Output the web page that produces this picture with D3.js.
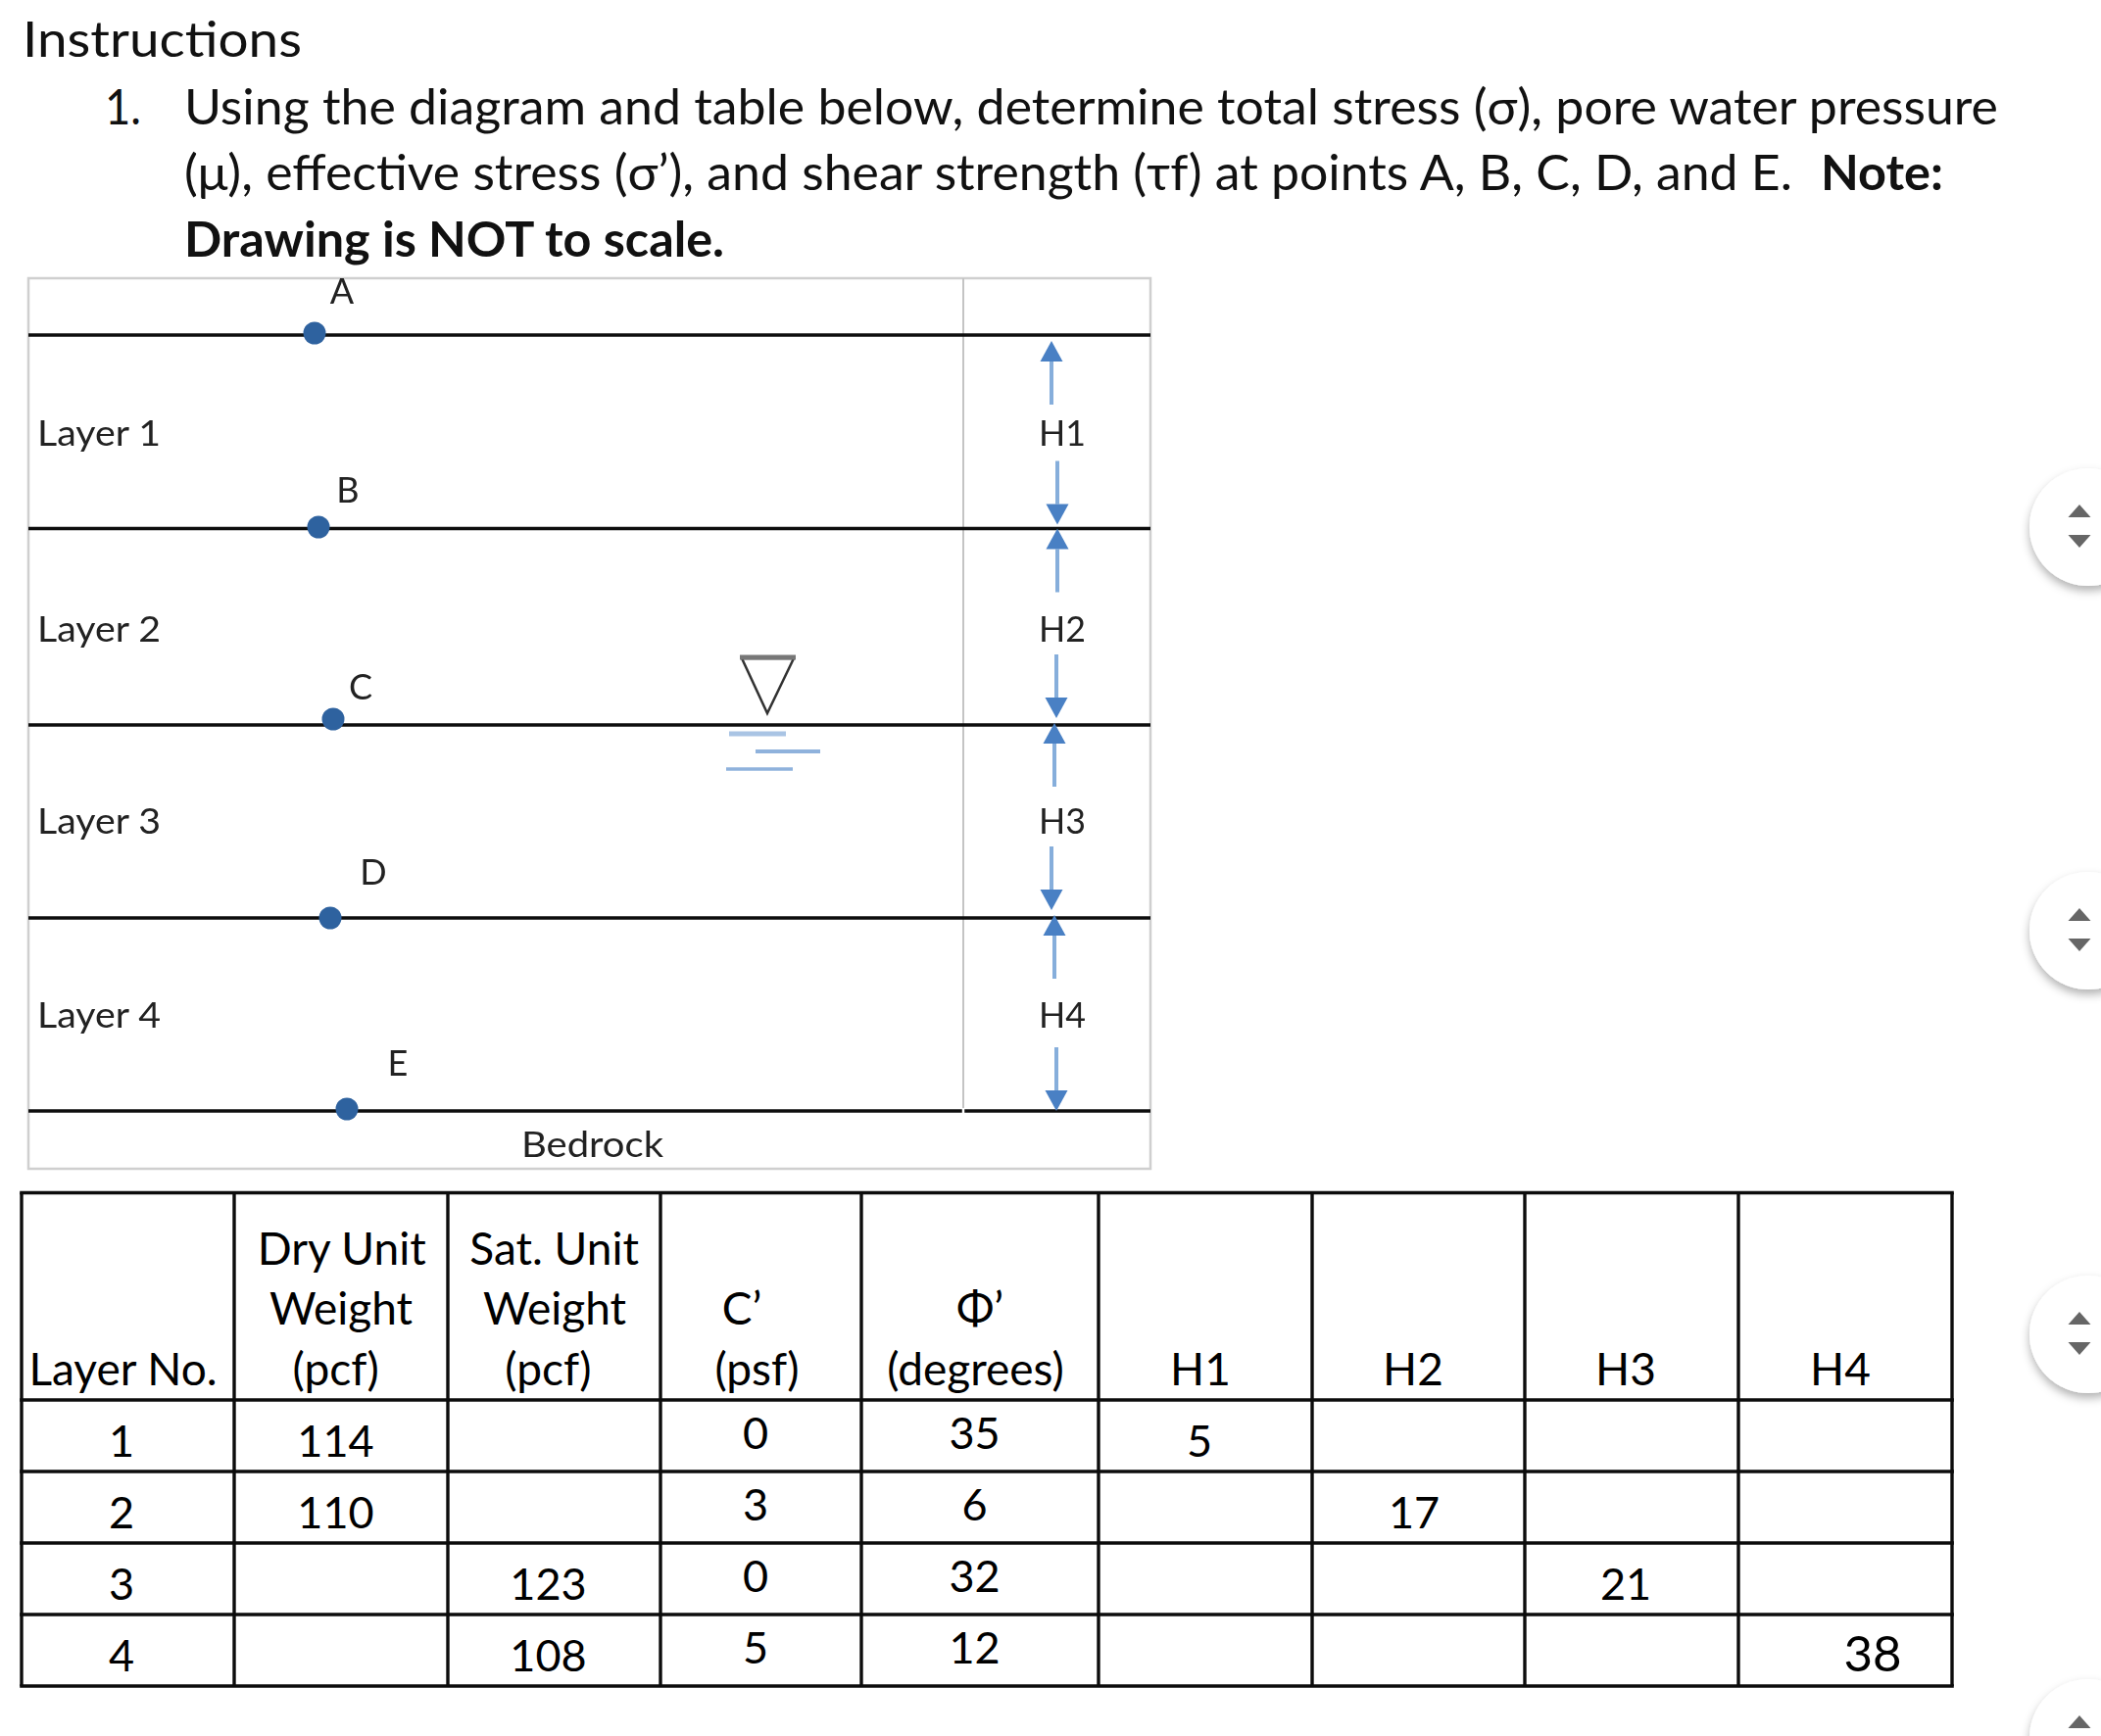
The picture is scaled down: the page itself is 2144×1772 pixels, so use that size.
<!DOCTYPE html>
<html>
<head>
<meta charset="utf-8">
<script src="https://cdn.jsdelivr.net/npm/d3@7"></script>
<style>
  html, body { margin: 0; padding: 0; background: #fff; }
  svg { display: block; }
  text { font-family: Lato, "Open Sans", sans-serif; }
</style>
</head>
<body>
<div id="page"></div>
<script>
// table values
var layerNo = ["1", "2", "3", "4"];
var dryUnit = ["114", "110", "", ""];
var satUnit = ["", "", "123", "108"];
var cPrime = ["0", "3", "0", "5"];
var phiPrime = ["35", "6", "32", "12"];
var h1Values = ["5", "", "", ""];
var h2Values = ["", "17", "", ""];
var h3Values = ["", "", "21", ""];
var h4Values = ["", "", "", "38"];

var columnKeys = ["layer", "dry", "sat", "c", "phi", "h1", "h2", "h3", "h4"];
var headerLines = [
  ["Layer No."],
  ["Dry Unit", "Weight", "(pcf)"],
  ["Sat. Unit", "Weight", "(pcf)"],
  ["C\u2019", "(psf)"],
  ["\u03A6\u2019", "(degrees)"],
  ["H1"], ["H2"], ["H3"], ["H4"]
];

// diagram values
var boundaryNames = ["top", "layer1", "layer2", "layer3", "bedrock"];
var layerNames = ["Layer 1", "Layer 2", "Layer 3", "Layer 4"];
var heightNames = ["H1", "H2", "H3", "H4"];
var pointNames = ["A", "B", "C", "D", "E"];
var pointAlong = [292, 296, 311, 308, 325];
var pointLift = [2, 1.5, 6, 0, 2];
var pointLabelAlong = [320, 326, 339, 352, 377];
var pointLabelLift = [32.5, 27, 26, 34, 36.5];

var upArrowAlong = [1044, 1050, 1047, 1047];
var upArrowGap = [6, 0, -2, -3];
var downArrowAlong = [1050, 1049, 1044, 1049];
var downArrowGap = [-4, -7, -8, 0];

var paragraph = [
  {text: "Instructions", x: 23, y: 57.5, len: 285, weight: 400},
  {text: "1.", x: 107, y: 126.5, len: 37, weight: 400},
  {text: "Using the diagram and table below, determine total stress (\u03C3), pore water pressure", x: 188, y: 126.5, len: 1851, weight: 400},
  {text: "(\u03BC), effective stress (\u03C3\u2019), and shear strength (\u03C4f) at points A, B, C, D, and E.", x: 188, y: 194, len: 1641, weight: 400},
  {text: "Note:", x: 1858, y: 194, len: 125, weight: 700},
  {text: "Drawing is NOT to scale.", x: 188, y: 262, len: 551, weight: 700}
];

var W = 2144, H = 1772;
var svg = d3.select("#page").append("svg").attr("width", W).attr("height", H);

var defs = svg.append("defs");
var soft = defs.append("filter").attr("id", "soft");
soft.append("feGaussianBlur").attr("stdDeviation", 0.7);
var shadow = defs.append("filter").attr("id", "shadow")
  .attr("x", "-30%").attr("y", "-30%").attr("width", "160%").attr("height", "160%");
shadow.append("feDropShadow").attr("dx", 0).attr("dy", 5).attr("stdDeviation", 5)
  .attr("flood-color", "#000").attr("flood-opacity", 0.3);

draw_paragraph();
draw_diagram();
draw_table();
draw_scrollers();

function draw_paragraph() {
  svg.append("g").selectAll("text")
    .data(paragraph)
    .enter().append("text")
    .attr("x", function(d) { return d.x; })
    .attr("y", function(d) { return d.y; })
    .attr("font-size", 50)
    .attr("font-weight", function(d) { return d.weight; })
    .attr("fill", "#111")
    .attr("textLength", function(d) { return d.len; })
    .attr("lengthAdjust", "spacingAndGlyphs")
    .text(function(d) { return d.text; });
}

function draw_diagram() {
  var frameLeft = 29, frameRight = 1174, frameTop = 284, frameBottom = 1193;
  var x = d3.scaleLinear().domain([0, 1145]).range([frameLeft, frameRight]);
  var y = d3.scaleOrdinal().domain(boundaryNames).range([342, 539.5, 740, 937, 1134]);
  var g = svg.append("g").attr("filter", "url(#soft)");

  g.append("rect")
    .attr("x", frameLeft).attr("y", frameTop)
    .attr("width", frameRight - frameLeft).attr("height", frameBottom - frameTop)
    .attr("fill", "#fff").attr("stroke", "#cfcfcf").attr("stroke-width", 2.5);

  g.append("line")
    .attr("x1", x(954)).attr("x2", x(954))
    .attr("y1", frameTop).attr("y2", y("bedrock"))
    .attr("stroke", "#c4c4c4").attr("stroke-width", 2);

  g.selectAll(".boundary")
    .data(boundaryNames)
    .enter().append("line")
    .attr("class", "boundary")
    .attr("x1", x(0)).attr("x2", x(1145))
    .attr("y1", y).attr("y2", y)
    .attr("stroke", "#0c0c0c").attr("stroke-width", 3.6);

  // small break in the bedrock line at the divider
  g.append("line")
    .attr("x1", x(954)).attr("x2", x(954))
    .attr("y1", y("bedrock") - 3).attr("y2", y("bedrock") + 3)
    .attr("stroke", "#fff").attr("stroke-width", 2.5);

  draw_water_table(g, x, y);

  g.selectAll(".point")
    .data(pointNames)
    .enter().append("circle")
    .attr("class", "point")
    .attr("cx", function(d, i) { return x(pointAlong[i]); })
    .attr("cy", function(d, i) { return y(boundaryNames[i]) - pointLift[i]; })
    .attr("r", 11.5)
    .attr("fill", "#2f629f");

  g.selectAll(".point-label")
    .data(pointNames)
    .enter().append("text")
    .attr("class", "point-label")
    .attr("x", function(d, i) { return x(pointLabelAlong[i]); })
    .attr("y", function(d, i) { return y(boundaryNames[i]) - pointLabelLift[i]; })
    .attr("text-anchor", "middle")
    .attr("font-size", 36)
    .attr("fill", "#222")
    .text(function(d) { return d; });

  // layer and height labels sit at about the middle of each layer
  var labelY = [454.5, 655, 851, 1048.5];
  g.selectAll(".layer-label")
    .data(layerNames)
    .enter().append("text")
    .attr("class", "layer-label")
    .attr("x", 38)
    .attr("y", function(d, i) { return labelY[i]; })
    .attr("font-size", 37)
    .attr("fill", "#222")
    .attr("textLength", 126)
    .attr("lengthAdjust", "spacingAndGlyphs")
    .text(function(d) { return d; });

  g.selectAll(".height-label")
    .data(heightNames)
    .enter().append("text")
    .attr("class", "height-label")
    .attr("x", 1060)
    .attr("y", function(d, i) { return labelY[i]; })
    .attr("font-size", 37)
    .attr("fill", "#222")
    .attr("textLength", 48)
    .attr("lengthAdjust", "spacingAndGlyphs")
    .text(function(d) { return d; });

  g.append("text")
    .attr("x", 532).attr("y", 1180.5)
    .attr("font-size", 37)
    .attr("fill", "#222")
    .attr("textLength", 145)
    .attr("lengthAdjust", "spacingAndGlyphs")
    .text("Bedrock");

  heightNames.forEach(function(name, i) {
    draw_arrow(g, x(upArrowAlong[i]), y(boundaryNames[i]) + upArrowGap[i], 1);
    draw_arrow(g, x(downArrowAlong[i]), y(boundaryNames[i + 1]) + downArrowGap[i], -1);
  });
}

function draw_arrow(g, ax, tip, dir) {
  // dir 1 points up (tail below the tip), -1 points down
  var headLength = 21, halfWidth = 11.5, tailLength = 65;
  g.append("line")
    .attr("x1", ax).attr("x2", ax)
    .attr("y1", tip + dir * headLength).attr("y2", tip + dir * tailLength)
    .attr("stroke", "#86aedb").attr("stroke-width", 4);
  g.append("path")
    .attr("d", d3.line()([[ax, tip], [ax - halfWidth, tip + dir * headLength], [ax + halfWidth, tip + dir * headLength]]) + "Z")
    .attr("fill", "#4a80c4");
}

function draw_water_table(g, x, y) {
  var level = y("layer2");
  g.append("path")
    .attr("d", d3.line()([[x(728), level - 68], [x(781), level - 68], [x(754), level - 12]]) + "Z")
    .attr("fill", "none").attr("stroke", "#333").attr("stroke-width", 2.5);
  g.append("line")
    .attr("x1", x(726)).attr("x2", x(783))
    .attr("y1", level - 69).attr("y2", level - 69)
    .attr("stroke", "#777").attr("stroke-width", 5);

  var ripples = [[715, 773, 9, 5, "#a9c4e4"], [742, 808, 27, 4, "#8fb2dc"], [712, 780, 45, 3.5, "#8fb2dc"]];
  g.selectAll(".ripple")
    .data(ripples)
    .enter().append("line")
    .attr("class", "ripple")
    .attr("x1", function(d) { return x(d[0]); })
    .attr("x2", function(d) { return x(d[1]); })
    .attr("y1", function(d) { return level + d[2]; })
    .attr("y2", function(d) { return level + d[2]; })
    .attr("stroke", function(d) { return d[4]; })
    .attr("stroke-width", function(d) { return d[3]; });
}

function draw_table() {
  var colEdges = [22, 239, 457, 674, 879, 1121, 1339, 1556, 1774, 1992];
  var tableTop = 1217.5, headerBottom = 1429, tableBottom = 1721;
  var rowBand = d3.scaleBand().domain(layerNo).range([headerBottom, tableBottom]);

  // cell text is not centred the same way in each column of the source table
  var valueCenter = d3.scaleOrdinal().domain(columnKeys)
    .range([124, 342.5, 559.5, 771, 994.5, 1224, 1443, 1659, 1911]);
  var valueBaseline = d3.scaleOrdinal().domain(columnKeys)
    .range([57.5, 57.5, 57.5, 50, 50, 57.5, 57.5, 57.5, 58]);
  var valueSize = d3.scaleOrdinal().domain(columnKeys)
    .range([45, 45, 45, 45, 45, 45, 45, 45, 51]);
  var headerCenter = [[125.5], [348.7, 348, 342.7], [565.6, 566, 559.5], [757, 772.5], [1000, 995.5], [1225], [1442], [1659], [1878]];
  var headerBaseline = [1290.5, 1351.5, 1413.5];

  var columns = [layerNo, dryUnit, satUnit, cPrime, phiPrime, h1Values, h2Values, h3Values, h4Values];
  var g = svg.append("g");

  var rowEdges = [tableTop, headerBottom].concat(layerNo.map(function(d) { return rowBand(d) + rowBand.bandwidth(); }));
  g.selectAll(".row-rule")
    .data(rowEdges)
    .enter().append("line")
    .attr("class", "row-rule")
    .attr("x1", colEdges[0] - 1.8).attr("x2", colEdges[9] + 1.8)
    .attr("y1", function(d) { return d; }).attr("y2", function(d) { return d; })
    .attr("stroke", "#0c0c0c").attr("stroke-width", 3.6);

  g.selectAll(".col-rule")
    .data(colEdges)
    .enter().append("line")
    .attr("class", "col-rule")
    .attr("x1", function(d) { return d; }).attr("x2", function(d) { return d; })
    .attr("y1", tableTop).attr("y2", tableBottom)
    .attr("stroke", "#0c0c0c").attr("stroke-width", 3.4);

  columnKeys.forEach(function(key, c) {
    var lines = headerLines[c];
    var first = headerBaseline.length - lines.length;
    lines.forEach(function(line, l) {
      g.append("text")
        .attr("x", headerCenter[c][l])
        .attr("y", headerBaseline[first + l])
        .attr("text-anchor", "middle")
        .attr("font-size", 46)
        .attr("fill", "#000")
        .text(line);
    });

    g.selectAll(".cell-" + key)
      .data(columns[c])
      .enter().append("text")
      .attr("class", "cell-" + key)
      .attr("x", valueCenter(key))
      .attr("y", function(d, i) { return rowBand(layerNo[i]) + valueBaseline(key); })
      .attr("text-anchor", "middle")
      .attr("font-size", valueSize(key))
      .attr("fill", "#000")
      .text(function(d) { return d; });
  });
}

function draw_scrollers() {
  var centers = [538, 950, 1362, 1774];
  var cx = 2131, arrowX = 2122, half = 11.5;
  var g = svg.append("g");

  g.selectAll("circle")
    .data(centers)
    .enter().append("circle")
    .attr("cx", cx)
    .attr("cy", function(d) { return d; })
    .attr("r", 60)
    .attr("fill", "#fff")
    .attr("filter", "url(#shadow)");

  centers.forEach(function(cy) {
    g.append("path")
      .attr("d", d3.line()([[arrowX, cy - 23], [arrowX - half, cy - 10], [arrowX + half, cy - 10]]) + "Z")
      .attr("fill", "#666");
    g.append("path")
      .attr("d", d3.line()([[arrowX, cy + 21], [arrowX - half, cy + 8], [arrowX + half, cy + 8]]) + "Z")
      .attr("fill", "#666");
  });
}
</script>
</body>
</html>
